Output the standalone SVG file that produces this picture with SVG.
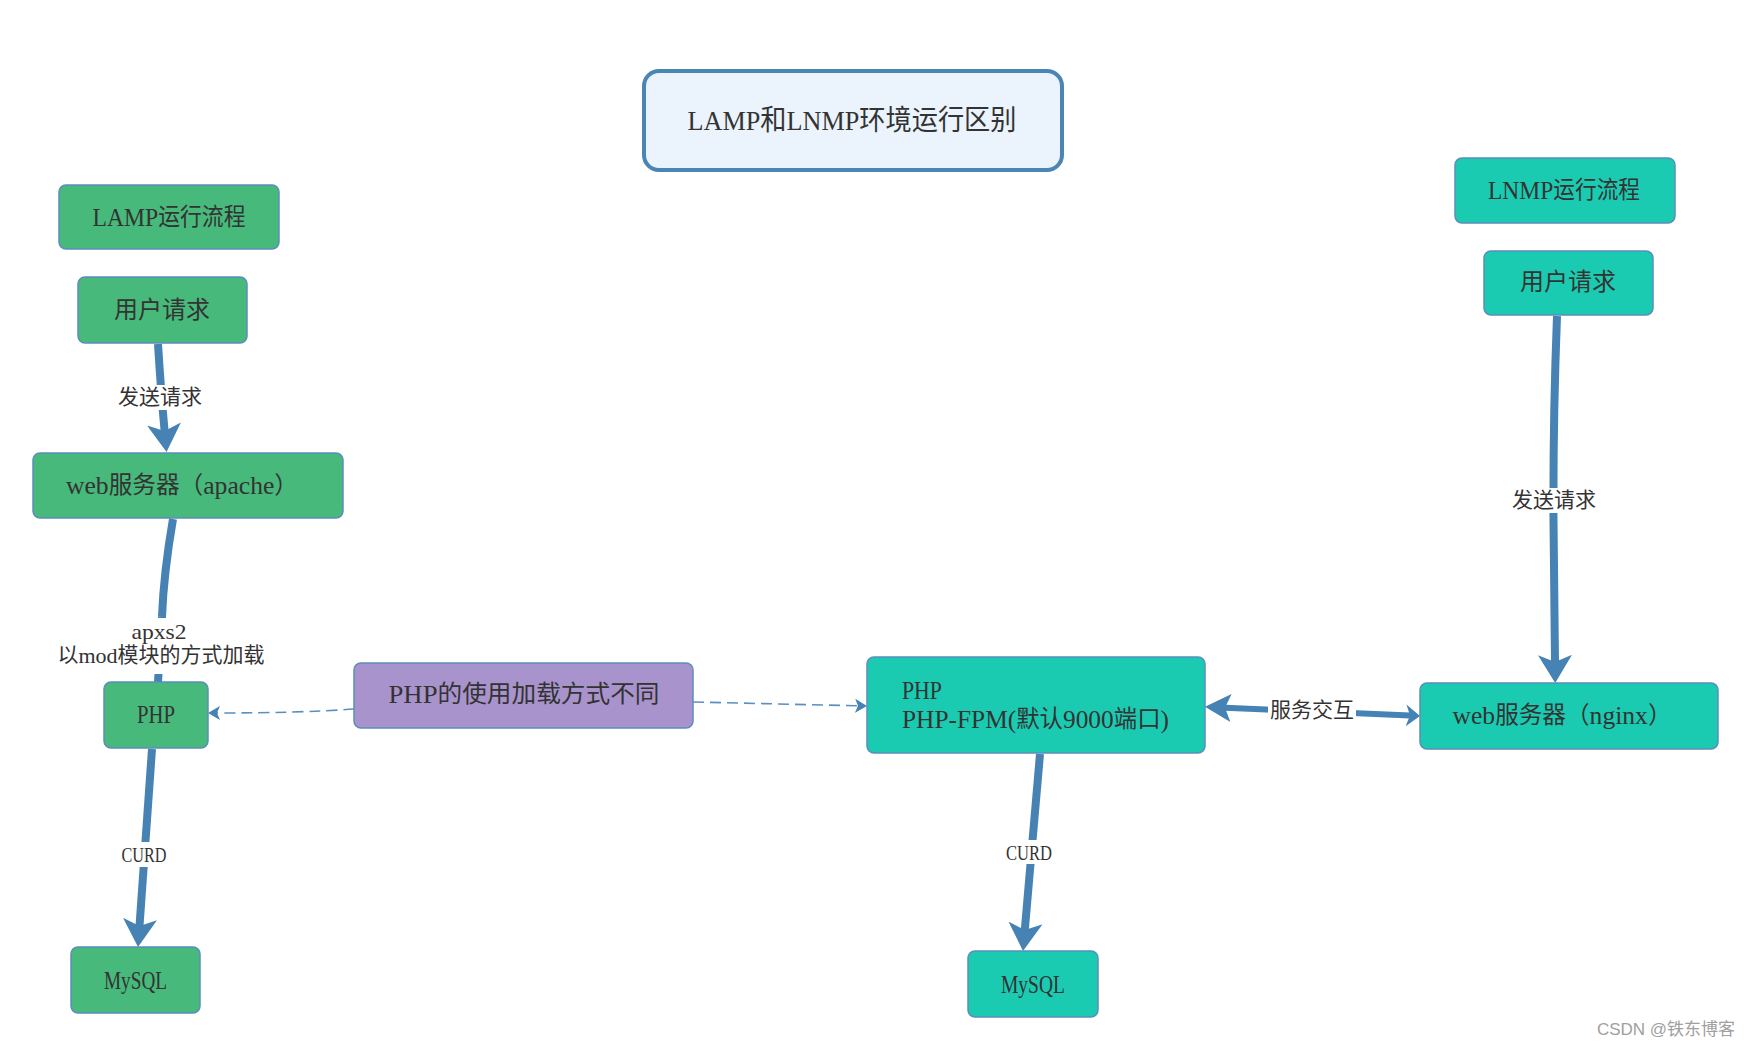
<svg xmlns="http://www.w3.org/2000/svg" width="1750" height="1047" viewBox="0 0 1750 1047">
<style>
.nt{font-family:"Liberation Serif","Noto Sans CJK SC",serif;font-size:24px;fill:#333;text-anchor:middle;dominant-baseline:central}
.lt{font-family:"Liberation Serif","Noto Sans CJK SC",serif;font-size:21px;fill:#333;text-anchor:middle;dominant-baseline:central}
.L{font-size:26px}
.g{fill:#47B97B;stroke:#5B8DBC;stroke-width:1.5}
.t{fill:#1ACBB1;stroke:#5B8DBC;stroke-width:1.5}
.p{fill:#A993CD;stroke:#5B8DBC;stroke-width:1.5}
.c{fill:none;stroke:#4682B4;stroke-width:8}
.d{fill:none;stroke:#5A8FC0;stroke-width:1.6;stroke-dasharray:11 6}
.bg{fill:#fff}
</style>
<defs>
<marker id="ah" viewBox="0 0 28 34" refX="7" refY="17" markerWidth="28" markerHeight="34" markerUnits="userSpaceOnUse" orient="auto"><path d="M0,0 L28,17 L0,34 L7,17 Z" fill="#4682B4"/></marker>
<marker id="ahL" viewBox="0 0 26 28" refX="6" refY="14" markerWidth="26" markerHeight="28" markerUnits="userSpaceOnUse" orient="auto-start-reverse"><path d="M0,0 L26,14 L0,28 L6,14 Z" fill="#4682B4"/></marker>
<marker id="ahS" viewBox="0 0 14 22" refX="4" refY="11" markerWidth="14" markerHeight="22" markerUnits="userSpaceOnUse" orient="auto"><path d="M0,0 L14,11 L0,22 L4,11 Z" fill="#4682B4"/></marker>
<marker id="ahD" viewBox="0 0 12 14" refX="3" refY="7" markerWidth="12" markerHeight="14" markerUnits="userSpaceOnUse" orient="auto"><path d="M0,0 L12,7 L0,14 L3,7 Z" fill="#4682B4"/></marker>
</defs>
<rect width="1750" height="1047" fill="#fff"/>

<g id="connectors">
<path class="c" d="M158,344 Q161,392 164.6,431" marker-end="url(#ah)"/>
<path class="c" d="M173,519 C168,548 163,590 162,617 L158,682"/>
<path class="c" d="M152,749 L139.5,926" marker-end="url(#ah)"/>
<path class="c" d="M1557,316 Q1553,420 1553.5,520 L1555,662" marker-end="url(#ah)"/>
<path class="c" d="M1040,754 L1024.8,930" marker-end="url(#ah)"/>
<path class="c" style="stroke-width:6" d="M1225,707.7 L1410,715.6" marker-start="url(#ahL)" marker-end="url(#ahS)"/>
<path class="d" d="M354,709 Q300,713 217,713" marker-end="url(#ahD)"/>
<path class="d" d="M693,702 L858,705.8" marker-end="url(#ahD)"/>
</g>

<g id="connector-labels">
<rect class="bg" x="116" y="385" width="88" height="25"/>
<text class="lt" x="160" y="397">发送请求</text>
<rect class="bg" x="56" y="618" width="210" height="56"/>
<text class="lt" style="font-size:22px" x="159" y="631" textLength="55" lengthAdjust="spacingAndGlyphs">apxs2</text>
<text class="lt" x="161" y="655" textLength="207" lengthAdjust="spacingAndGlyphs">以<tspan style="font-size:22px">mod</tspan>模块的方式加载</text>
<rect class="bg" x="120" y="842" width="48" height="25"/>
<text class="lt" style="font-size:22px" x="144" y="854" textLength="45" lengthAdjust="spacingAndGlyphs">CURD</text>
<rect class="bg" x="1005" y="840" width="48" height="24"/>
<text class="lt" style="font-size:22px" x="1029" y="852" textLength="46" lengthAdjust="spacingAndGlyphs">CURD</text>
<rect class="bg" x="1509" y="488" width="90" height="25"/>
<text class="lt" x="1554" y="500">发送请求</text>
<rect class="bg" x="1268" y="696" width="88" height="28"/>
<text class="lt" x="1312" y="710">服务交互</text>
</g>

<g id="title">
<rect x="644" y="71" width="418" height="99" rx="15" fill="#EBF3FC" stroke="#4A86B4" stroke-width="4"/>
<text class="nt" style="font-size:28px" x="852" y="120" textLength="329" lengthAdjust="spacingAndGlyphs">LAMP和LNMP环境运行区别</text>
</g>

<g id="lamp-title"><rect class="g" x="59" y="185" width="220" height="64" rx="7"/><text class="nt" x="169" y="217" textLength="153" lengthAdjust="spacingAndGlyphs"><tspan class="L">LAMP</tspan>运行流程</text></g>
<g id="lamp-user"><rect class="g" x="78" y="277" width="169" height="66" rx="7"/><text class="nt" x="162" y="310">用户请求</text></g>
<g id="lamp-apache"><rect class="g" x="33" y="453" width="310" height="65" rx="7"/><text class="nt" x="182" y="485" textLength="232" lengthAdjust="spacingAndGlyphs"><tspan class="L">web</tspan>服务器（<tspan class="L">apache</tspan>）</text></g>
<g id="lamp-php"><rect class="g" x="104" y="682" width="104" height="66" rx="7"/><text class="nt L" x="156" y="714" textLength="38" lengthAdjust="spacingAndGlyphs">PHP</text></g>
<g id="lamp-mysql"><rect class="g" x="71" y="947" width="129" height="66" rx="7"/><text class="nt L" x="135.5" y="980" textLength="63" lengthAdjust="spacingAndGlyphs">MySQL</text></g>

<g id="php-diff"><rect class="p" x="354" y="663" width="339" height="65" rx="7"/><text class="nt" x="524" y="694" textLength="271" lengthAdjust="spacingAndGlyphs"><tspan class="L">PHP</tspan>的使用加载方式不同</text></g>

<g id="php-fpm"><rect class="t" x="867" y="657" width="338" height="96" rx="7"/>
<text class="nt L" style="text-anchor:start" x="902" y="690" textLength="40" lengthAdjust="spacingAndGlyphs">PHP</text>
<text class="nt" style="text-anchor:start" x="902" y="719" textLength="267" lengthAdjust="spacingAndGlyphs"><tspan class="L">PHP-FPM(</tspan>默认<tspan class="L">9000</tspan>端口<tspan class="L">)</tspan></text></g>

<g id="lnmp-title"><rect class="t" x="1455" y="158" width="220" height="65" rx="7"/><text class="nt" x="1564" y="190" textLength="152" lengthAdjust="spacingAndGlyphs"><tspan class="L">LNMP</tspan>运行流程</text></g>
<g id="lnmp-user"><rect class="t" x="1484" y="251" width="169" height="64" rx="7"/><text class="nt" x="1568" y="282">用户请求</text></g>
<g id="lnmp-nginx"><rect class="t" x="1420" y="683" width="298" height="66" rx="7"/><text class="nt" x="1562" y="715" textLength="219" lengthAdjust="spacingAndGlyphs"><tspan class="L">web</tspan>服务器（<tspan class="L">nginx</tspan>）</text></g>
<g id="lnmp-mysql"><rect class="t" x="968" y="951" width="130" height="66" rx="7"/><text class="nt L" x="1033" y="984" textLength="64" lengthAdjust="spacingAndGlyphs">MySQL</text></g>

<text x="1666" y="1029" style="font-family:'Liberation Sans','Noto Sans CJK SC',sans-serif;font-size:17px;fill:#A0A0A0;text-anchor:middle;dominant-baseline:central">CSDN @铁东博客</text>
</svg>
